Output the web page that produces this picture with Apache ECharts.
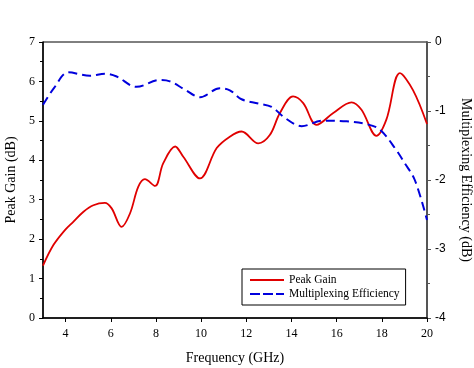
<!DOCTYPE html>
<html><head><meta charset="utf-8">
<script src="https://cdn.jsdelivr.net/npm/echarts@6/dist/echarts.min.js"></script>
<style>html,body{margin:0;padding:0;background:#fff}#c{width:474px;height:368px}</style>
</head><body><div id="c"></div>
<script>
const gainFreq = [3, 3.46, 3.97, 4.34, 4.78, 5.23, 5.74, 6.04, 6.48, 6.85, 7.22, 7.51, 7.96, 8.32, 8.85, 9.21, 9.95, 10.69, 11.27, 11.79, 12.53, 13.04, 13.49, 14.07, 14.52, 15.11, 15.85, 16.66, 17.1, 17.76, 18.2, 18.8, 19.38, 20];
const gainValues = [1.33, 1.85, 2.23, 2.44, 2.69, 2.86, 2.92, 2.78, 2.31, 2.65, 3.33, 3.52, 3.35, 3.92, 4.35, 4.09, 3.54, 4.31, 4.6, 4.73, 4.43, 4.64, 5.2, 5.62, 5.45, 4.9, 5.2, 5.47, 5.28, 4.62, 5.03, 6.21, 5.78, 4.92];
const effFreq = [3, 3.5, 4.12, 5.08, 5.74, 6.26, 7.14, 8.18, 8.62, 9.28, 9.95, 10.83, 11.27, 11.79, 12.53, 13.12, 13.71, 14.45, 15.4, 16.44, 17.33, 17.92, 18.65, 19.0, 19.46, 20];
const effValues = [-0.91, -0.66, -0.44, -0.49, -0.46, -0.50, -0.65, -0.55, -0.57, -0.69, -0.80, -0.67, -0.70, -0.83, -0.89, -0.94, -1.10, -1.22, -1.14, -1.15, -1.19, -1.27, -1.57, -1.75, -2.0, -2.58];
const xTicks = [4, 6, 8, 10, 12, 14, 16, 18, 20];

const serif = '"Liberation Serif", "Times New Roman", serif';
const sans = '"Liberation Sans", Arial, sans-serif';
const chart = echarts.init(document.getElementById('c'));
chart.setOption({
  animation: false,
  grid: {left: 43, right: 47, top: 42, bottom: 50, outerBoundsMode: 'none', containLabel: false, show: true, borderColor: '#000', borderWidth: 1},
  legend: {
    left: 242, top: 269, width: 158, orient: 'vertical', itemGap: 2,
    itemWidth: 34, itemHeight: 10, padding: [5, 6, 5, 8],
    borderColor: '#000', borderWidth: 1,
    textStyle: {fontFamily: serif, fontSize: 11.5, color: '#000'},
    data: [{name: 'Peak Gain', icon: 'path://M0,4L34,4L34,6L0,6Z'}, {name: 'Multiplexing Efficiency', icon: 'path://M0,4L10,4L10,6L0,6ZM13,4L23,4L23,6L13,6ZM26,4L34,4L34,6L26,6Z'}]
  },
  xAxis: {
    type: 'value', min: 3, max: 20,
    name: 'Frequency (GHz)', nameLocation: 'middle', nameGap: 33,
    nameTextStyle: {fontFamily: serif, fontSize: 14, color: '#000'},
    axisLine: {lineStyle: {color: '#000', width: 1.5}},
    axisTick: {customValues: xTicks, length: 4, lineStyle: {color: '#000'}},
    axisLabel: {customValues: xTicks, fontFamily: serif, fontSize: 12, color: '#000', margin: 10},
    splitLine: {show: false}
  },
  yAxis: [{
    type: 'value', min: 0, max: 7, interval: 1, position: 'left',
    name: 'Peak Gain (dB)', nameLocation: 'middle', nameGap: 24, nameRotate: 90,
    nameTextStyle: {fontFamily: serif, fontSize: 14, color: '#000'},
    axisLine: {show: true, lineStyle: {color: '#000', width: 1.5}},
    axisTick: {show: true, length: 4, lineStyle: {color: '#000'}},
    minorTick: {show: true, splitNumber: 2, length: 3, lineStyle: {color: '#000'}},
    axisLabel: {fontFamily: serif, fontSize: 12, color: '#000', margin: 8},
    splitLine: {show: false}
  }, {
    type: 'value', min: -4, max: 0, interval: 1, position: 'right',
    name: 'Multiplexing Efficiency (dB)', nameLocation: 'middle', nameGap: 32, nameRotate: -90,
    nameTextStyle: {fontFamily: serif, fontSize: 14, color: '#000'},
    axisLine: {show: true, lineStyle: {color: '#555', width: 2}},
    axisTick: {show: true, length: 4, lineStyle: {color: '#555'}},
    minorTick: {show: true, splitNumber: 2, length: 3, lineStyle: {color: '#555'}},
    axisLabel: {fontFamily: sans, fontSize: 12, color: '#000', margin: 8},
    splitLine: {show: false}
  }],
  series: [{
    name: 'Peak Gain', type: 'line', yAxisIndex: 0, smooth: 0.35, showSymbol: false,
    color: '#e00000', lineStyle: {color: '#e00000', width: 1.8},
    data: gainFreq.map((f, i) => [f, gainValues[i]])
  }, {
    name: 'Multiplexing Efficiency', type: 'line', yAxisIndex: 1, smooth: 0.35, showSymbol: false,
    color: '#0000dd', lineStyle: {color: '#0000dd', width: 2, type: [9, 5]},
    data: effFreq.map((f, i) => [f, effValues[i]])
  }]
});
</script></body></html>
